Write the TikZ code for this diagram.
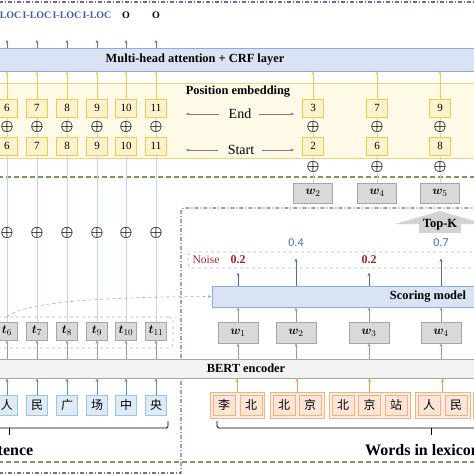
\documentclass[tikz,border=0pt]{standalone}
\usepackage{amsmath,amssymb,bm}
\usepackage{fontspec}
\setmainfont{Liberation Serif}
\setsansfont{Carlito}
\newfontfamily\cjk{Noto Sans CJK SC}
\usetikzlibrary{arrows.meta,positioning,calc}

\definecolor{attfill}{HTML}{DAE3F3}
\definecolor{attline}{HTML}{8FAADC}
\definecolor{posfill}{HTML}{FFFAE8}
\definecolor{posline}{HTML}{F5D66E}
\definecolor{boxfill}{HTML}{FFF2CC}
\definecolor{boxline}{HTML}{F2CA52}
\definecolor{tokfill}{HTML}{D9D9D9}
\definecolor{tokline}{HTML}{A6A6A6}
\definecolor{bertfill}{HTML}{F2F2F2}
\definecolor{chrfill}{HTML}{DEEBF7}
\definecolor{chrline}{HTML}{9DC3E6}
\definecolor{chrarr}{HTML}{5B8FC8}
\definecolor{lexfill}{HTML}{FBE5D6}
\definecolor{lexline}{HTML}{F4B183}
\definecolor{lexarr}{HTML}{F09A5A}
\definecolor{tagblue}{HTML}{3F5F9F}
\definecolor{tagarrow}{HTML}{5A7BBE}
\definecolor{scoreblue}{HTML}{4F6FA8}
\definecolor{noisered}{HTML}{A0282B}
\definecolor{modpurple}{HTML}{8064A2}
\definecolor{selgreen}{HTML}{789A5C}
\definecolor{linkblue}{HTML}{C4D6EC}
\definecolor{topkgray}{HTML}{D3D3D3}

\begin{document}
\begin{tikzpicture}[x=1pt, y=-1pt,
    band/.style={draw=attline, fill=attfill, line width=1pt, minimum width=520pt, inner sep=0pt},
    bandtext/.style={font=\bfseries\fontsize{12.4}{14}\selectfont},
    posbox/.style={draw=boxline, fill=boxfill, line width=0.8pt, minimum width=21pt, minimum height=18pt, inner sep=0pt, font=\fontsize{11}{12}\selectfont},
    plus/.style={inner sep=0pt, font=\fontsize{14}{14}\selectfont},
    tok/.style={draw=tokline, fill=tokfill, line width=0.8pt, minimum width=21pt, minimum height=18pt, inner sep=0pt, font=\fontsize{13}{14}\selectfont},
    wrd/.style={tok, minimum width=40pt, minimum height=21pt},
    chr/.style={draw=chrline, fill=chrfill, line width=0.8pt, minimum width=21pt, minimum height=20pt, inner sep=0pt, font=\cjk\fontsize{12}{12}\selectfont},
    lexgrp/.style={draw=lexline, fill=lexfill!70, line width=0.8pt, minimum height=26pt, inner sep=0pt},
    lexchr/.style={draw=lexline, fill=lexfill, line width=0.8pt, minimum width=22pt, minimum height=20pt, inner sep=0pt, font=\cjk\fontsize{12}{12}\selectfont},
    tagtxt/.style={font=\bfseries\fontsize{10}{11}\selectfont},
    bigtxt/.style={font=\bfseries\fontsize{16}{18}\selectfont},
    arrow/.style={-{Stealth[length=3.5pt, width=3pt]}, line width=0.6pt},
    link/.style={line width=0.6pt},
    module/.style={draw=modpurple, line width=1.1pt, dash pattern=on 4pt off 2pt on 1pt off 2pt},
    selline/.style={draw=selgreen, line width=1.1pt, dash pattern=on 5pt off 3pt},
    guide/.style={draw=gray!60, dashed, line width=0.6pt, rounded corners=4pt}
]
\useasboundingbox (0,0) rectangle (474,474);
\clip (0,0) rectangle (474,474);

% Frames of the modules
\draw[module] (-10,2) -- (484,2);
\draw[module] (-10,473) -- (181,473);
\draw[module, rounded corners=3pt] (181,484) -- (181,208) -- (484,208);
\draw[selline] (-10,177) -- (484,177);
\draw[selline] (-10,462) -- (484,462);

% Layers across the whole width
\node[band, minimum height=23pt] (att) at (237,59.5) {};
\node[bandtext] at (195,60) {Multi-head attention + CRF layer};
\node[draw=posline, fill=posfill, line width=1pt, minimum width=520pt, minimum height=75pt] (pos) at (237,120.5) {};
\node[bandtext] at (238,92) {Position embedding};
\node[band, draw=tokline, fill=bertfill, minimum height=19pt] (bert) at (237,368.5) {};
\node[bandtext] at (246,368) {BERT encoder};

% Sentence side
\node[guide, minimum width=193pt, minimum height=31pt] (tgrp) at (76.5,332.5) {};
\foreach \i/\x/\lab/\col/\ch in {0/7/I-LOC/tagblue/人, 1/37/I-LOC/tagblue/民, 2/67/I-LOC/tagblue/广, 3/97/I-LOC/tagblue/场, 4/126/O/black/中, 5/156/O/black/央} {
  \pgfmathtruncatemacro{\pid}{\i+6}
  \node[tagtxt, text=\col] (tag\i) at (\x,15.5) {\lab};
  \node[posbox] (end\i) at (\x,108) {\pid};
  \node[plus] (pe\i) at (\x,127) {$\bm{\oplus}$};
  \node[posbox] (start\i) at (\x,146) {\pid};
  \node[plus] (pt\i) at (\x,233) {$\bm{\oplus}$};
  \node[tok] (t\i) at (\x,331) {$\bm{t}_{\pid}$};
  \node[chr] (c\i) at (\x,405) {\ch};
  \draw[arrow, tagarrow, shorten >=17.5pt] (tag\i |- att.north) -- (tag\i);
  \draw[arrow, boxline] (end\i) -- (end\i |- att.south);
  \draw[link, gray!35] (start\i) -- (pe\i);
  \draw[link, gray!35] (pe\i) -- (end\i);
  \draw[link, linkblue] (pt\i) -- (start\i);
  \draw[link, linkblue] (t\i) -- (pt\i);
  \draw[arrow, gray!80] (t\i |- bert.north) -- (t\i);
  \draw[arrow, chrarr] (c\i) -- (c\i |- bert.south);
}

% Selected words
\foreach \i/\x/\e/\s/\w in {0/313/3/2/2, 1/377/7/6/4, 2/440/9/8/5} {
  \node[posbox] (rend\i) at (\x,108) {\e};
  \node[plus] (rpe\i) at (\x,127) {$\bm{\oplus}$};
  \node[posbox] (rstart\i) at (\x,146) {\s};
  \node[plus] (rpw\i) at (\x,167) {$\bm{\oplus}$};
  \node[wrd, minimum width=39pt, minimum height=20pt] (sel\i) at (\x,193) {$\bm{w}_{\w}$};
  \draw[arrow, boxline] (rend\i) -- (rend\i |- att.south);
  \draw[link, gray!35] (rstart\i) -- (rpe\i);
  \draw[link, gray!35] (rpe\i) -- (rend\i);
  \draw[link, gray!35] (rpw\i) -- (rstart\i);
  \draw[link, gray!35] (sel\i) -- (rpw\i);
}

% Start / End labels
\node[font=\fontsize{14}{16}\selectfont] (endtxt) at (240,114) {End};
\node[font=\fontsize{14}{16}\selectfont] (starttxt) at (241,150) {Start};
\draw[arrow, gray, shorten <=6pt, shorten >=19pt] (endtxt.west) -- (endtxt.west -| end5.east);
\draw[arrow, gray, shorten <=4pt, shorten >=8pt] (endtxt.east) -- (endtxt.east -| rend0.west);
\draw[arrow, gray, shorten <=6pt, shorten >=19pt] (starttxt.west) -- (starttxt.west -| start5.east);
\draw[arrow, gray, shorten <=4pt, shorten >=8pt] (starttxt.east) -- (starttxt.east -| rstart0.west);

% Lexicon side
\fill[topkgray] (395,224) -- (440,211) -- (485,224) -- cycle;
\node[fill=topkgray, font=\bfseries\fontsize{12.5}{14}\selectfont, minimum width=42pt, minimum height=15pt, inner sep=0pt] (topk) at (440,225) {Top-K};

\node[guide, minimum width=312pt, minimum height=16pt] (noise) at (344,260) {};
\node[font=\fontsize{11.5}{13}\selectfont, text=noisered] (nzlbl) at (206,260) {Noise};
\node[font=\bfseries\fontsize{12}{13}\selectfont, text=noisered] (n1) at (238,260) {0.2};
\node[font=\bfseries\fontsize{12}{13}\selectfont, text=noisered] (n3) at (369,260) {0.2};
\node[font=\sffamily\fontsize{12}{13}\selectfont, text=scoreblue] (s2) at (296,243) {0.4};
\node[font=\sffamily\fontsize{12}{13}\selectfont, text=scoreblue] (s4) at (441,243) {0.7};

\node[band, minimum width=278pt, minimum height=21pt] (score) at (351,296.5) {};
\node[bandtext] at (428,297) {Scoring model};

\foreach \i/\x in {1/238, 2/296, 3/369, 4/441} {
  \node[wrd] (w\i) at (\x,332.5) {$\bm{w}_{\i}$};
  \draw[arrow, gray!80] (w\i |- bert.north) -- (w\i);
  \draw[arrow, gray!80] (w\i) -- (w\i |- score.south);
}
\draw[arrow, scoreblue, shorten >=5pt] (w1 |- score.north) -- (n1);
\draw[arrow, scoreblue, shorten >=8pt] (w2 |- score.north) -- (s2);
\draw[arrow, scoreblue, shorten >=5pt] (w3 |- score.north) -- (n3);
\draw[arrow, scoreblue, shorten >=8pt] (w4 |- score.north) -- (s4);

% token features into the scoring model
\draw[arrow, gray!70, dashed] (tgrp.north -| t0) .. controls (25,301) and (110,297) .. (score.west);

% Matched words
\node[lexgrp, minimum width=54pt] (g1) at (237,405) {};
\node[lexchr] (l11) at (224,405) {李};
\node[lexchr] (l12) at (251,405) {北};
\node[lexgrp, minimum width=54pt] (g2) at (297,405) {};
\node[lexchr] (l21) at (284,405) {北};
\node[lexchr] (l22) at (310,405) {京};
\node[lexgrp, minimum width=81pt] (g3) at (369.5,405) {};
\node[lexchr] (l31) at (343,405) {北};
\node[lexchr] (l32) at (369.5,405) {京};
\node[lexchr] (l33) at (396,405) {站};
\node[lexgrp, minimum width=55pt] (g4) at (442.5,405) {};
\node[lexchr] (l41) at (429,405) {人};
\node[lexchr] (l42) at (456,405) {民};
\node[lexgrp, minimum width=54pt] (g5) at (500,405) {};
\foreach \g in {1,2,3,4} {
  \draw[arrow, lexarr] (g\g) -- (g\g |- bert.south);
}

% Braces and captions
\draw[line width=0.9pt, rounded corners=1.5pt] (-150,421) -- (-150,428) -- (168,428) -- (168,421);
\draw[line width=0.9pt] (9,428) -- (9,435);
\draw[line width=0.9pt, rounded corners=1.5pt] (217,421) -- (217,428) -- (645,428) -- (645,421);
\draw[line width=0.9pt] (431,428) -- (431,435);
\node[bigtxt] (senttxt) at (3,450) {Sentence};
\node[bigtxt, anchor=west, inner sep=0pt] (lextxt) at (365,450) {Words in lexicon};
\end{tikzpicture}
\end{document}
